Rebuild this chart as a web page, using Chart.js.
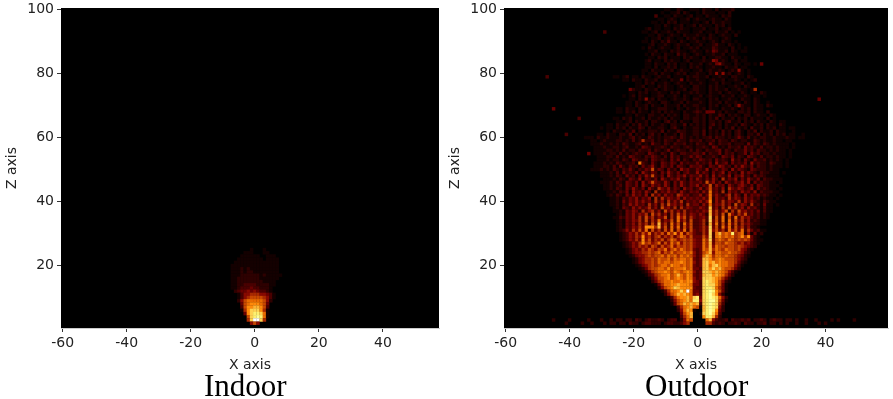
<!DOCTYPE html>
<html lang="en">
  <head>
    <title>Indoor / Outdoor</title>
    <script src="https://cdn.jsdelivr.net/npm/chart.js@4"></script>
    <style>
      body{
        margin: 0;
        background-color: #fff;
      }
      .box{
        position: absolute;
        top: 0;
        height: 375px;
      }
      .name{
        position: absolute;
        top: 368px;
        font-family: 'Liberation Serif', serif;
        font-size: 31px;
        line-height: 36px;
        color: #000;
      }
    </style>
  </head>
  <body>
    <div class="box" style="left:0;width:445px"><canvas id="indoorChart"></canvas></div>
    <div class="box" style="left:443px;width:450px"><canvas id="outdoorChart"></canvas></div>
    <div class="name" style="left:204px">Indoor</div>
    <div class="name" style="left:645px">Outdoor</div>

    <script>
      const xTicks = [-60, -40, -20, 0, 20, 40];
      const zTicks = [20, 40, 60, 80, 100];

      // share of the colormap for each hex level 0-f
      const levelShare = [0, .04, .09, .145, .205, .267, .33, .39, .457, .52, .6, .66, .72, .8, .9, 1];

      // one row per z
      // text left of | ends at x=-1, text right of | starts at x=0
      const indoorTopZ = 25;
      const indoorRows = [
        "1|0001",
        "111|00011",
        "1111|11001110",
        "11111|1110111100",
        "111111|11111111",
        "1111111|11111111",
        "1112121|11111111",
        "1112122|11111111",
        "1112222|221211111",
        "1122222|22111111",
        "1122222|222111100",
        "1122333|3222211",
        "1123334|33222100",
        "234454|543321",
        "13556|6655431",
        "13567|77765310",
        "25788|888752",
        "4789|99874",
        "3799|aa973",
        "169b|bb961",
        "49b|ccb81",
        "7b|cdc81",
        "6b|ffb6",
        "5|75"
      ];

      const outdoorTopZ = 100;
      const outdoorRows = [
        // z 100
        "1100210011|1021102011120",
        "10011202100|10211101102",
        "3001102110120|11021110212",
        "0110121011201|21101211021",
        "11010212011101|10120211211",
        "01102101120112|02111021201",
        "1201101102121101|11201120112",
        "30000000000011012011210211101|12011021120101",
        "0110210121102111|21102101211020",
        "1011201210110212|10212110121",
        // z 90
        "11021021311021011|2110121021101",
        "0120112101211201|12011231102101",
        "10210121101201121|2011132111020101",
        "0112011021211012|1102143112021011",
        "1021102110312101|21011211201110",
        "0110212011102121|1020112211021101",
        "1201102121101201|1121154121012011",
        "01102110212011021|120121452110210110104",
        "1102011212011021|2101121102112011",
        "011021102120121101|12012112101215101",
        // z 80
        "10112021101212011|21102151512012101",
        "30000000000000000000011012011021101211201110212|211201121102211021",
        "11021102112011021140211|2110121120112101012",
        "01102120112101211021|12101120211011201",
        "1120110212110121102|21102121101121021",
        "421102112012110112012|2110212112011211016",
        "0110212011211021201121|2110211201211021011021",
        "10120211011220112102101|1201211021120112101101",
        "0110215120211012112102|211021201121102110210000000000000000004",
        "1102101211022101120211|12102112021121021021001",
        // z 70
        "01102112021102111202112|211021201120252110211021",
        "400000000000000000001102110212011222110210211|2120211021121021202110",
        "1102120211021202121102112|32144412021102212021102",
        "01102110221120212102211|2120211320212102201211021",
        "3000000000011021201120211212021102212|2120213021120212021110201",
        "1101202112022102312021102|2120221202311202120211021011",
        "01102112021312021121022113021|21202312021120321021202110210",
        "101102120211320211221023102112|2120311202130212031120212011011",
        "01021102130211222130211322112|2130212031202310213021120211001",
        "30000000001102110221302120231202112032112|2130212131202310221302120212011001",
        // z 60
        "011102112111211231211321212232132121|2122313221212421312122112111211011",
        "110121112212131262231213221322132|2312231322132122113212112110110",
        "0111211212132112312142213213223121|3221421322312221413213212111101",
        "011121122123112143212232132212321|2232143121322314232131221211101",
        "011112212131221322313212412322131|3213223413213224231322121211010",
        "4011121221312123221432132142133223|3241322413231224142312212111010",
        "01112213121432213243213142312242|4312232143241321432131221211010",
        "01112122132143223143232142413213|2432314232152314214223121210100",
        "0011121213212231832142143243142322|4232415234142324152322132110100",
        "011122131421323142352143241432143|3421432542314253241322121110100",
        // z 50
        "00111212132132421324372431423153422|4325134243152432143222121100",
        "0111213142324153243142532413422|5243142351423152432132211101",
        "0111213214231425373241532435243|3524152432514352314232111100",
        "011121321432514324153243523142|5324253162435142532413221110",
        "0111213214324152474325314253243|3427352415324352514232211010",
        "011212314324153253425314253243|5243725341532453241432211100",
        "011213214253241532643524315342|3524734251643542351423211010",
        "01121324153425316243534253243|4253834261534253425132221100",
        "01213214253425163525342653423|3524835324625315243423211010",
        "0112132435243516263543525343|4353825342635425342312110100",
        // z 40
        "0112142435353426352635362434|3535925363543625353213211000",
        "112132535342635263745352634|4253835463527354262314110100",
        "012143253534635274536263543|3543a35263746352534213110",
        "11214354263563527463536343|4354a46357263745342413110",
        "01214353546274635263746354|3542a4637285364734231210",
        "11324353637463547263857364|3453b3738273836453231210",
        "1214354637364835473846373|3463b4738283746352321100",
        "1214353646374a46384738473|3462a4837384736453221100",
        "1214354649996a47384837473|3464b4738483746352210",
        "1235364748374637483748374|3464b5746385748364231100",
        // z 30
        "123546475846574869584764|3364b38a787c67825141200",
        "123546595646746574687574|4475b389787867969421",
        "123546495746574687567675|4486b4787687676764211",
        "12354696756847586857675|4486a477687765645321",
        "12354656476475685767675|4486a58776776765432",
        "1245465765768578687674|3487a68768776754210",
        "1245566767857686778785|3478a588778776532",
        "124556767786878687875|348a96887877654210",
        "12456676877868788784|34aa9789877765320",
        "12456676878878898785|34ab9a8988776421",
        // z 20
        "1245676788798878784|34ab8ab98877531",
        "124677887978889784|43ab9b9a877642",
        "12467889879878985|34bba9a987531",
        "1346788978a87984|34abb9a98642",
        "135778978987985|34bbba98642",
        "24678898898995|43bcba97521",
        "1468899a99984|43bcbb9741",
        "25789ba99994|33bccb8641",
        "136889b9f84|43bcdc9741",
        "2578a9a984|53bcdb952",
        // z 10
        "136899a8b|c4bcdcb852",
        "25789a8c|c5bcddb741",
        "1478a9a9|a3bcdcb63",
        "3689a8|71acdcb52",
        "258a91|00acdc942",
        "479a0|01bcdb83",
        "368a0|009cca62",
        "200002000002000200202202203202322320233025870|0008a532230322323022320232202202002002000020200002",
        "020000200200020220220322023322202332235600|00066323202232032202230220202002002000202",
        "|"
      ];

      // afmhot colormap
      function levelColor(level) {
        const t = levelShare[level];
        const c = v => Math.round(255 * Math.min(1, Math.max(0, v)));
        return `rgb(${c(2 * t)},${c(2 * t - 0.5)},${c(2 * t - 1)})`;
      }

      function rowsToCells(rows, topZ) {
        const points = [];
        const colors = [];
        rows.forEach((row, i) => {
          const parts = row.split("|");
          const add = (ch, x) => {
            const level = parseInt(ch, 16);
            if (level > 0) {
              points.push({x: x, y: topZ - i});
              colors.push(levelColor(level));
            }
          };
          [...parts[0]].forEach((ch, k) => add(ch, k - parts[0].length));
          [...parts[1]].forEach((ch, k) => add(ch, k));
        });
        return {points, colors};
      }

      const blackArea = {
        id: "blackArea",
        beforeDatasetsDraw(chart) {
          const a = chart.chartArea;
          chart.ctx.fillStyle = "#000";
          chart.ctx.fillRect(a.left, a.top, a.width, a.height);
        }
      };

      function heatChart(id, rows, topZ, xMax, rightPad) {
        const cells = rowsToCells(rows, topZ);
        const tickFont = {family: "'DejaVu Sans', sans-serif", size: 14};
        return new Chart(document.getElementById(id).getContext("2d"), {
          type: "scatter",
          data: {
            datasets: [{
              data: cells.points,
              pointStyle: "rect",
              pointRadius: 2.45,
              pointBorderWidth: 0,
              pointBackgroundColor: cells.colors
            }]
          },
          plugins: [blackArea],
          options: {
            responsive: false,
            animation: false,
            events: [],
            layout: {padding: {top: 8, right: rightPad}},
            plugins: {legend: {display: false}, tooltip: {enabled: false}},
            scales: {
              x: {
                type: "linear",
                min: -60.5,
                max: xMax,
                afterBuildTicks: axis => { axis.ticks = xTicks.map(v => ({value: v})); },
                afterFit: axis => { axis.height = 47; axis.paddingLeft = 0; axis.paddingRight = 0; },
                grid: {drawOnChartArea: false, tickLength: 4, tickColor: "#333"},
                border: {color: "#ccc"},
                ticks: {color: "#222", font: tickFont, padding: 3, maxRotation: 0, autoSkip: false},
                title: {display: true, text: "X axis", color: "#222", font: tickFont, padding: {top: 0, bottom: 1}}
              },
              y: {
                type: "linear",
                min: 0.5,
                max: 100.5,
                afterBuildTicks: axis => { axis.ticks = zTicks.map(v => ({value: v})); },
                afterFit: axis => { axis.width = 61; axis.paddingTop = 0; axis.paddingBottom = 0; },
                grid: {drawOnChartArea: false, tickLength: 4, tickColor: "#333"},
                border: {color: "#ccc"},
                ticks: {color: "#222", font: tickFont, padding: 3, autoSkip: false},
                title: {display: true, text: "Z axis", color: "#222", font: tickFont, padding: {top: 4, bottom: 0}}
              }
            }
          }
        });
      }

      document.getElementById("indoorChart").width = 445;
      document.getElementById("indoorChart").height = 375;
      document.getElementById("outdoorChart").width = 450;
      document.getElementById("outdoorChart").height = 375;

      let indoorChart = heatChart("indoorChart", indoorRows, indoorTopZ, 57.5, 6);
      let outdoorChart = heatChart("outdoorChart", outdoorRows, outdoorTopZ, 59.5, 5);
    </script>
  </body>
</html>
